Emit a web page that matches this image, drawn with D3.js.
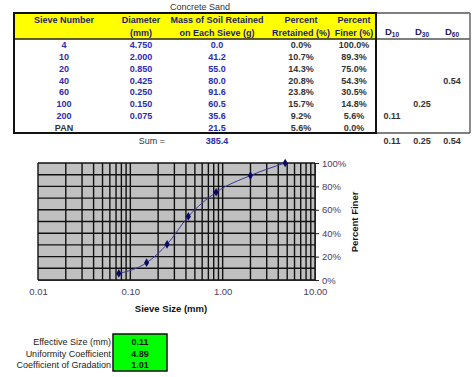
<!DOCTYPE html>
<html><head><meta charset="utf-8">
<script src="https://cdn.jsdelivr.net/npm/d3@7"></script>
<style>
html,body{margin:0;padding:0;background:#fff;}
svg{display:block;font-family:"Liberation Sans",Arial,sans-serif;}
</style></head>
<body><svg id="c" width="474" height="377"></svg>
<script>
const title = "Concrete Sand";
const sieveNumbers = ["4","10","20","40","60","100","200","PAN"];
const diameters = [4.750, 2.000, 0.850, 0.425, 0.250, 0.150, 0.075, null];
const massRetained = [0.0, 41.2, 55.0, 80.0, 91.6, 60.5, 35.6, 21.5];
const percentRetained = [0.0, 10.7, 14.3, 20.8, 23.8, 15.7, 9.2, 5.6];
const percentFiner = [100.0, 89.3, 75.0, 54.3, 30.5, 14.8, 5.6, 0.0];
const massSum = 385.4;
const d10 = 0.11, d30 = 0.25, d60 = 0.54;
const xTickLabels = [0.01, 0.1, 1, 10];
const yTickValues = [0, 20, 40, 60, 80, 100];
const summaryLabels = ["Effective Size (mm)", "Uniformity Coefficient", "Coefficient of Gradation"];
const summaryValues = [0.11, 4.89, 1.01];

const svg = d3.select("#c");
const navy = "#1c1c6e", blue = "#2b2bb0", dark = "#333";
const FS = 9;

// ---------- Table ----------
const T = {l:14, r:376, dr:470, top:13, hb:39, bot:133};
svg.append("rect").attr("x",T.l).attr("y",T.top).attr("width",T.r-T.l).attr("height",T.hb-T.top).attr("fill","#ffff00");
svg.append("text").attr("x",200).attr("y",10).attr("text-anchor","middle").attr("font-size",FS).attr("fill","#333").text(title);

const rowY = d3.scaleBand().domain(d3.range(sieveNumbers.length)).range([T.hb, T.bot]);
const colX = {sieve:64, dia:141, mass:217, pr:301, pf:354, d10:392, d30:422, d60:452};

const hdr = [
  [colX.sieve, ["Sieve Number"]],
  [colX.dia, ["Diameter","(mm)"]],
  [colX.mass, ["Mass of Soil Retained","on Each Sieve (g)"]],
  [colX.pr, ["Percent","Rretained (%)"]],
  [colX.pf, ["Percent","Finer (%)"]]
];
hdr.forEach(([x, lines]) => {
  lines.forEach((t,i) => svg.append("text").attr("x",x).attr("y",23+i*12.5).attr("text-anchor","middle")
    .attr("font-size",FS).attr("font-weight","bold").attr("fill",navy).text(t));
});
[["10",colX.d10],["30",colX.d30],["60",colX.d60]].forEach(([s,x]) => {
  const t = svg.append("text").attr("x",x).attr("y",35).attr("text-anchor","middle").attr("font-size",FS+0.5).attr("fill",navy).attr("font-weight","bold");
  t.append("tspan").text("D");
  t.append("tspan").attr("font-size",6.5).attr("dy",2).text(s);
});

const fmtPct = d3.format(".1f");
sieveNumbers.forEach((s,i) => {
  const y = rowY(i) + rowY.bandwidth()/2 + 3.5;
  const cell = (x, txt, col) => svg.append("text").attr("x",x).attr("y",y).attr("text-anchor","middle")
    .attr("font-size",FS).attr("font-weight","bold").attr("fill",col).text(txt);
  cell(colX.sieve, s, s==="PAN" ? dark : blue);
  if (diameters[i] !== null) cell(colX.dia, d3.format(".3f")(diameters[i]), blue);
  cell(colX.mass, d3.format(".1f")(massRetained[i]), blue);
  cell(colX.pr, fmtPct(percentRetained[i])+"%", dark);
  cell(colX.pf, fmtPct(percentFiner[i])+"%", dark);
});
[[d60, colX.d60, 3],[d30, colX.d30, 5],[d10, colX.d10, 6]].forEach(([v,x,i]) => {
  svg.append("text").attr("x",x).attr("y",rowY(i)+rowY.bandwidth()/2+3.5).attr("text-anchor","middle")
    .attr("font-size",FS).attr("font-weight","bold").attr("fill",dark).text(d3.format(".2f")(v));
});
// sum row
svg.append("text").attr("x",152).attr("y",144).attr("text-anchor","middle").attr("font-size",FS).attr("fill","#333").text("Sum =");
svg.append("text").attr("x",colX.mass).attr("y",144).attr("text-anchor","middle").attr("font-size",FS).attr("font-weight","bold").attr("fill",blue).text(d3.format(".1f")(massSum));
[[d10,colX.d10],[d30,colX.d30],[d60,colX.d60]].forEach(([v,x]) => {
  svg.append("text").attr("x",x).attr("y",144).attr("text-anchor","middle").attr("font-size",FS).attr("font-weight","bold").attr("fill",dark).text(d3.format(".2f")(v));
});
// borders
const line = (x1,y1,x2,y2,w,c) => svg.append("line").attr("x1",x1).attr("y1",y1).attr("x2",x2).attr("y2",y2).attr("stroke",c).attr("stroke-width",w);
line(T.r, T.top, T.dr, T.top, 1.5, "#555");
line(T.r, T.hb, T.dr, T.hb, 1.5, "#555");
line(T.dr, T.top, T.dr, T.bot, 1.5, "#666");
line(T.r, T.bot, T.dr, T.bot, 1.5, "#555");
line(T.l, T.hb, T.r, T.hb, 1.5, "#222");
svg.append("rect").attr("x",T.l).attr("y",T.top).attr("width",T.r-T.l).attr("height",T.bot-T.top)
  .attr("fill","none").attr("stroke","#111").attr("stroke-width",2);

// ---------- Chart ----------
const P = {l:38, r:315, t:163, b:280};
const x = d3.scaleLog().domain([0.01, 10]).range([P.l, P.r]);
const y = d3.scaleLinear().domain([0, 100]).range([P.b, P.t]);
svg.append("rect").attr("x",P.l).attr("y",P.t).attr("width",P.r-P.l).attr("height",P.b-P.t).attr("fill","#c0c0c0");
const vgrid = [];
[0.01,0.1,1].forEach(dec => d3.range(1,10).forEach(m => vgrid.push(dec*m)));
vgrid.push(10);
svg.append("g").selectAll("line").data(vgrid).join("line")
  .attr("x1",d=>x(d)).attr("x2",d=>x(d)).attr("y1",P.t).attr("y2",P.b).attr("stroke","#111").attr("stroke-width",1.4);
svg.append("g").selectAll("line").data(d3.range(0,101,10)).join("line")
  .attr("x1",P.l).attr("x2",P.r).attr("y1",d=>y(d)).attr("y2",d=>y(d)).attr("stroke","#111").attr("stroke-width",1.4);

const xAxis = svg.append("g").attr("transform",`translate(0,${P.b})`)
  .call(d3.axisBottom(x).tickValues(xTickLabels).tickFormat(d3.format(".2f")).tickSize(0).tickPadding(8));
xAxis.select(".domain").attr("stroke","#222");
xAxis.selectAll("text").attr("font-size",FS+0.5).attr("fill","#4a3b66").attr("font-family","Liberation Sans, Arial, sans-serif");

const yAxis = svg.append("g").attr("transform",`translate(${P.r},0)`)
  .call(d3.axisRight(y).tickValues(yTickValues).tickFormat(d=>d+"%").tickSize(4).tickPadding(3));
yAxis.select(".domain").attr("stroke","#222");
yAxis.selectAll(".tick line").attr("stroke","#222");
yAxis.selectAll("text").attr("font-size",FS+0.5).attr("fill","#4a3b66").attr("font-family","Liberation Sans, Arial, sans-serif");

svg.append("text").attr("x",171).attr("y",312).attr("text-anchor","middle").attr("font-size",FS+0.5).attr("font-weight","bold").attr("fill","#111").text("Sieve Size (mm)");
svg.append("text").attr("transform","translate(358,222) rotate(-90)").attr("text-anchor","middle").attr("font-size",FS+0.5).attr("font-weight","bold").attr("fill","#111").text("Percent Finer");

const pts = diameters.map((d,i)=>({d, f:percentFiner[i]})).filter(p=>p.d!==null).sort((a,b)=>a.d-b.d);
svg.append("path").datum(pts).attr("fill","none").attr("stroke","#3a3a9a").attr("stroke-width",1)
  .attr("d", d3.line().x(p=>x(p.d)).y(p=>y(p.f)).curve(d3.curveMonotoneX));
svg.append("g").selectAll("path").data(pts).join("path")
  .attr("transform",p=>`translate(${x(p.d)},${y(p.f)})`)
  .attr("d", d3.symbol(d3.symbolDiamond, 22)).attr("fill","#0a0a60");

// ---------- Summary ----------
const S = {x:113, w:54, top:334};
const sRow = d3.scaleBand().domain(d3.range(summaryLabels.length)).range([S.top+2, S.top+36]);
svg.append("rect").attr("x",S.x).attr("y",S.top).attr("width",S.w).attr("height",37).attr("fill","#00ff00").attr("stroke","#111").attr("stroke-width",1.5);
summaryLabels.forEach((l,i) => {
  const yy = sRow(i)+sRow.bandwidth()/2+3.5;
  svg.append("text").attr("x",S.x-2).attr("y",yy).attr("text-anchor","end").attr("font-size",FS).attr("fill","#222").text(l);
  svg.append("text").attr("x",S.x+S.w/2).attr("y",yy).attr("text-anchor","middle").attr("font-size",FS).attr("font-weight","bold").attr("fill","#111").text(d3.format(".2f")(summaryValues[i]));
});
</script></body></html>
